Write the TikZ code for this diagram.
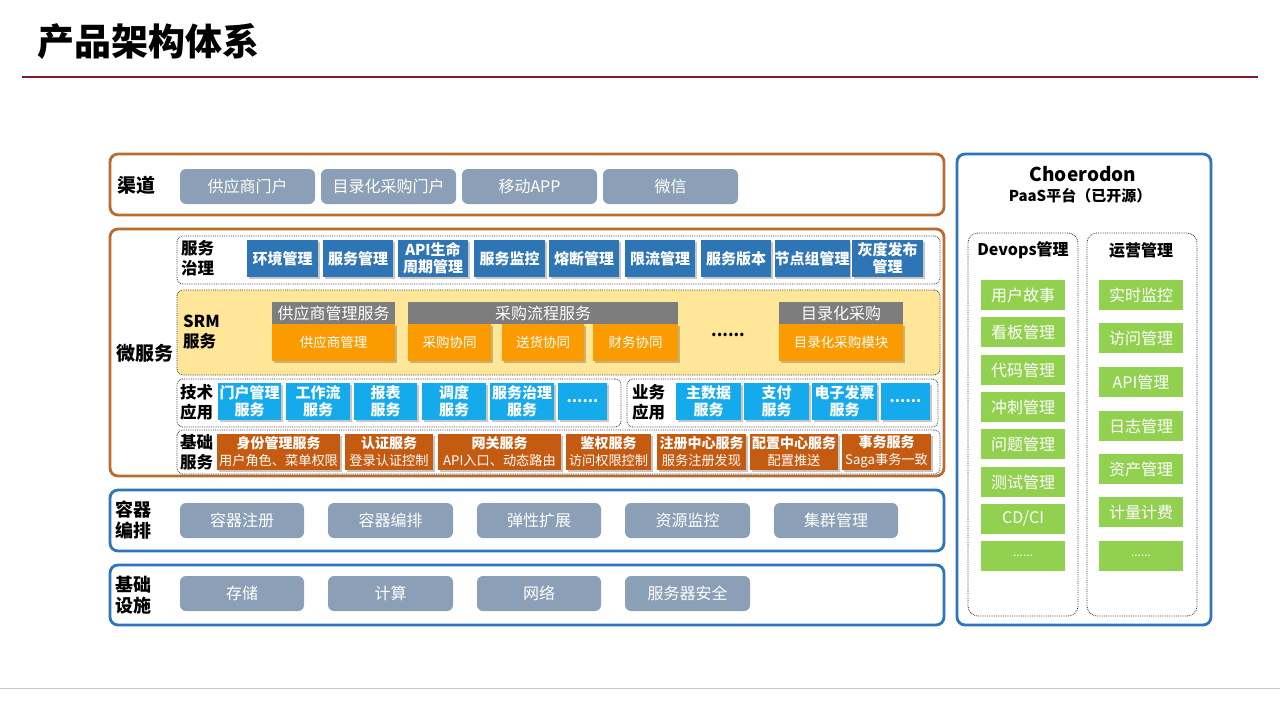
\documentclass[tikz,border=0pt]{standalone}
\usepackage{fontspec}
\setmainfont{Noto Sans CJK SC}
\usetikzlibrary{shadows}
\definecolor{brownF}{RGB}{185,108,48}
\definecolor{blueF}{RGB}{46,117,190}
\definecolor{grayB}{RGB}{139,159,182}
\definecolor{govB}{RGB}{46,117,182}
\definecolor{srmY}{RGB}{255,230,153}
\definecolor{hdrG}{RGB}{125,125,125}
\definecolor{orgB}{RGB}{250,155,0}
\definecolor{cyanB}{RGB}{20,170,235}
\definecolor{baseB}{RGB}{197,90,17}
\definecolor{greenB}{RGB}{146,208,80}
\definecolor{titleL}{RGB}{135,25,45}
\newcommand\bx[7][]{\node[#1,inner sep=0pt,minimum width={(#5-#3)*1pt},minimum height={(#6-#4)*1pt}] (#2) at ({(#3+#5)/2},{(#4+#6)/2}) {#7};}
\newcommand\fs[2]{\fontsize{#1}{#2}\selectfont}
\tikzset{
  frameO/.style={draw=brownF,line width=2.8pt,rounded corners=8pt},
  frameB/.style={draw=blueF,line width=2.8pt,rounded corners=8pt},
  dotb/.style={draw=black!80,densely dotted,line width=0.8pt,rounded corners=6pt},
  srmbg/.style={dotb,fill=srmY},
  lab/.style={font=\fs{19}{22}\bfseries,align=left,anchor=west,inner sep=0pt},
  slab/.style={font=\fs{16.5}{20}\bfseries,align=left,anchor=west,inner sep=0pt},
  gbox/.style={fill=grayB,rounded corners=6pt,text=white,font=\fs{16}{19}},
  shd/.style={drop shadow={shadow xshift=1.5pt,shadow yshift=-1.5pt,opacity=0.22,fill=black}},
  govbox/.style={fill=govB,text=white,font=\fs{15}{17}\bfseries,align=center,shd},
  hdr/.style={fill=hdrG,text=white,font=\fs{16}{19}},
  obox/.style={fill=orgB,text=white,font=\fs{13.5}{16},shd},
  cbox/.style={fill=cyanB,text=white,font=\fs{15}{17}\bfseries,align=center,shd},
  bbox/.style={fill=baseB,text=white,font=\fs{13.2}{17},align=center,shd},
  grbox/.style={fill=greenB,text=white,font=\fs{16}{19}},
  rtitle/.style={font=\fs{16}{19}\bfseries,inner sep=0pt}
}
\begin{document}
\begin{tikzpicture}[x=1pt,y=-1pt]
\useasboundingbox[fill=white] (0,0) rectangle (1280,720);
% title
\node[font=\fs{37}{42}\bfseries,anchor=west,inner sep=0pt] (title) at (37,42) {产品架构体系};
\draw[titleL,line width=2.5pt] (22,77) -- (1258,77);
\draw[black!22,line width=1pt] (0,688) -- (1280,688);

% channel
\bx[frameO]{chan}{110}{154}{944}{215}{}
\node[lab] (chanl) at (117,185) {渠道};
\bx[gbox]{c1}{180}{169}{315}{204}{供应商门户}
\bx[gbox]{c2}{321}{169}{456}{204}{目录化采购门户}
\bx[gbox]{c3}{462}{169}{597}{204}{移动APP}
\bx[gbox]{c4}{603}{169}{738}{204}{微信}

% microservices
\bx[frameO]{ms}{110}{229}{944}{476}{}
\node[lab] (msl) at (116,353) {微服务};

% governance
\bx[dotb]{gov}{177}{236}{940}{284}{}
\node[slab] (govl) at (181,258) {服务\\治理};
\bx[govbox]{g1}{247}{240}{318}{277}{环境管理}
\bx[govbox]{g2}{323}{240}{393}{277}{服务管理}
\bx[govbox]{g3}{398}{240}{468}{277}{API生命\\周期管理}
\bx[govbox]{g4}{474}{240}{545}{277}{服务监控}
\bx[govbox]{g5}{549}{240}{619}{277}{熔断管理}
\bx[govbox]{g6}{625}{240}{695}{277}{限流管理}
\bx[govbox]{g7}{701}{240}{771}{277}{服务版本}
\bx[govbox]{g8}{776}{240}{848}{277}{节点组管理}
\bx[govbox]{g9}{852}{240}{923}{277}{灰度发布\\管理}

% SRM
\bx[srmbg]{srm}{177}{290}{940}{375}{}
\node[slab] (srml) at (183,332) {SRM\\服务};
\bx[obox]{o1}{272}{324}{395}{361}{供应商管理}
\bx[obox]{o2}{408}{324}{491}{361}{采购协同}
\bx[obox]{o3}{502}{324}{584}{361}{送货协同}
\bx[obox]{o4}{593}{324}{678}{361}{财务协同}
\bx[obox]{o5}{779}{324}{903}{361}{目录化采购模块}
\bx[hdr]{h1}{272}{302}{395}{324}{供应商管理服务}
\bx[hdr]{h2}{408}{302}{678}{324}{采购流程服务}
\bx[hdr]{h3}{779}{302}{903}{324}{目录化采购}
\node[font=\fs{16}{18}\bfseries] (sdots) at (728,335) {......};

% tech apps
\bx[dotb]{tech}{177}{379}{621}{427}{}
\node[slab] (techl) at (180,402) {技术\\应用};
\bx[cbox]{t1}{218}{383}{281}{420}{门户管理\\服务}
\bx[cbox]{t2}{286}{383}{350}{420}{工作流\\服务}
\bx[cbox]{t3}{354}{383}{417}{420}{报表\\服务}
\bx[cbox]{t4}{422}{383}{486}{420}{调度\\服务}
\bx[cbox]{t5}{490}{383}{554}{420}{服务治理\\服务}
\bx[cbox]{t6}{558}{383}{607}{420}{......}

% business apps
\bx[dotb]{biz}{627}{379}{938}{427}{}
\node[slab] (bizl) at (632,402) {业务\\应用};
\bx[cbox]{b1}{676}{383}{741}{420}{主数据\\服务}
\bx[cbox]{b2}{744}{383}{809}{420}{支付\\服务}
\bx[cbox]{b3}{812}{383}{877}{420}{电子发票\\服务}
\bx[cbox]{b4}{881}{383}{930}{420}{......}

% base services
\bx[dotb]{base}{177}{430}{940}{474}{}
\node[slab] (basel) at (180,452) {基础\\服务};
\bx[bbox]{s1}{217}{434}{340}{470}{{\fs{14}{17}\bfseries 身份管理服务}\\用户角色、菜单权限}
\bx[bbox]{s2}{345}{434}{433}{470}{{\fs{14}{17}\bfseries 认证服务}\\登录认证控制}
\bx[bbox]{s3}{438}{434}{561}{470}{{\fs{14}{17}\bfseries 网关服务}\\API入口、动态路由}
\bx[bbox]{s4}{566}{434}{651}{470}{{\fs{14}{17}\bfseries 鉴权服务}\\访问权限控制}
\bx[bbox]{s5}{657}{434}{746}{470}{{\fs{14}{17}\bfseries 注册中心服务}\\服务注册发现}
\bx[bbox]{s6}{750}{434}{838}{470}{{\fs{14}{17}\bfseries 配置中心服务}\\配置推送}
\bx[bbox]{s7}{842}{434}{931}{470}{{\fs{14}{17}\bfseries 事务服务}\\Saga事务一致}

% container
\bx[frameB]{cont}{110}{490}{944}{551}{}
\node[lab,font=\fs{18}{21}\bfseries] (contl) at (115,520) {容器\\编排};
\bx[gbox]{k1}{180}{503}{304}{538}{容器注册}
\bx[gbox]{k2}{328}{503}{453}{538}{容器编排}
\bx[gbox]{k3}{477}{503}{601}{538}{弹性扩展}
\bx[gbox]{k4}{625}{503}{750}{538}{资源监控}
\bx[gbox]{k5}{774}{503}{898}{538}{集群管理}

% infrastructure
\bx[frameB]{infra}{110}{565}{944}{625}{}
\node[lab,font=\fs{18}{21}\bfseries] (infral) at (115,595) {基础\\设施};
\bx[gbox]{i1}{180}{576}{304}{611}{存储}
\bx[gbox]{i2}{328}{576}{453}{611}{计算}
\bx[gbox]{i3}{477}{576}{601}{611}{网络}
\bx[gbox]{i4}{625}{576}{750}{611}{服务器安全}

% right panel
\bx[frameB]{paas}{957}{154}{1211}{625}{}
\node[font=\fs{19}{22}\bfseries,inner sep=0pt] (choe) at (1083,174) {Choerodon};
\node[font=\fs{15}{18}\bfseries,inner sep=0pt] (paasl) at (1080,196) {PaaS平台（已开源）};
\bx[dotb,rounded corners=10pt]{dev}{968}{233}{1078}{616}{}
\node[rtitle] (devl) at (1023,250) {Devops管理};
\bx[grbox]{d1}{981}{280}{1065}{310}{用户故事}
\bx[grbox]{d2}{981}{317}{1065}{347}{看板管理}
\bx[grbox]{d3}{981}{355}{1065}{385}{代码管理}
\bx[grbox]{d4}{981}{392}{1065}{422}{冲刺管理}
\bx[grbox]{d5}{981}{429}{1065}{459}{问题管理}
\bx[grbox]{d6}{981}{467}{1065}{497}{测试管理}
\bx[grbox]{d7}{981}{504}{1065}{534}{CD/CI}
\bx[grbox,font=\fs{12}{14}]{d8}{981}{541}{1065}{571}{......}
\bx[dotb,rounded corners=10pt]{ops}{1087}{233}{1197}{616}{}
\node[rtitle] (opsl) at (1141,250) {运营管理};
\bx[grbox]{p1}{1099}{280}{1183}{310}{实时监控}
\bx[grbox]{p2}{1099}{323}{1183}{353}{访问管理}
\bx[grbox]{p3}{1099}{367}{1183}{397}{API管理}
\bx[grbox]{p4}{1099}{411}{1183}{441}{日志管理}
\bx[grbox]{p5}{1099}{454}{1183}{484}{资产管理}
\bx[grbox]{p6}{1099}{497}{1183}{527}{计量计费}
\bx[grbox,font=\fs{12}{14}]{p7}{1099}{541}{1183}{571}{......}
\end{tikzpicture}
\end{document}
